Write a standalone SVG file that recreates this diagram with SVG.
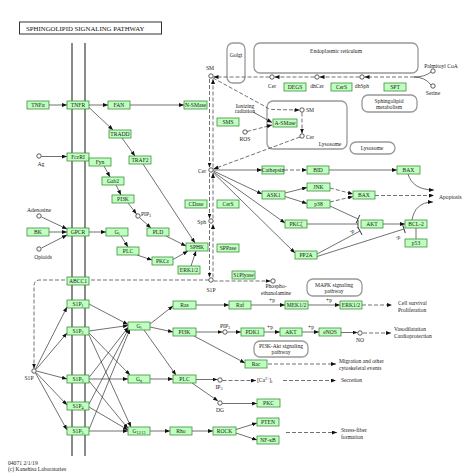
<svg xmlns="http://www.w3.org/2000/svg" width="474" height="473" viewBox="0 0 474 473">
<style>
.n rect{fill:#bfffbf;stroke:#3f8f3f;stroke-width:0.8}
.n text{font-family:"Liberation Serif",serif;font-size:5.6px;text-anchor:middle;fill:#1a1a1a}
.c{fill:#fff;stroke:#333;stroke-width:0.8}
.e{stroke:#333;stroke-width:0.7;fill:none;marker-end:url(#a)}
.i{stroke:#333;stroke-width:0.7;fill:none;marker-end:url(#t)}
.l{stroke:#333;stroke-width:0.7;fill:none}
.d{stroke-dasharray:4 2}
.cmp{fill:none;stroke:#999;stroke-width:1.3}
.t{font-family:"Liberation Serif",serif;font-size:5.6px;fill:#222}
.m{text-anchor:middle}
.r{text-anchor:end}
.mem{stroke:#8a8a8a;stroke-width:2}
</style>
<defs>
<marker id="a" markerUnits="userSpaceOnUse" markerWidth="5" markerHeight="4" refX="5" refY="2" orient="auto"><path d="M0,0L5,2L0,4z" fill="#111"/></marker>
<marker id="t" markerUnits="userSpaceOnUse" markerWidth="2" markerHeight="9" refX="1" refY="4.5" orient="auto"><path d="M1,0V9" stroke="#333" stroke-width="0.9"/></marker>
</defs>
<rect width="474" height="473" fill="#fff"/>
<rect x="19.5" y="22" width="142" height="12" fill="#fff" stroke="#333" stroke-width="1"/>
<text x="26" y="31" style="font-family:'Liberation Serif',serif;font-size:6.8px;fill:#111">SPHINGOLIPID  SIGNALING  PATHWAY</text>

<g id="membrane">
<line class="mem" x1="72" y1="43" x2="72" y2="456"/>
<line class="mem" x1="85" y1="43" x2="85" y2="456"/>
</g>

<g id="compartments">
<rect class="cmp" x="227" y="43" width="18" height="40" rx="6"/>
<text class="t m" x="236" y="57">Golgi</text>
<rect class="cmp" x="254" y="43" width="164" height="30" rx="6"/>
<text class="t m" x="336" y="53">Endoplasmic reticulum</text>
<rect class="cmp" x="362" y="95" width="55" height="17" rx="6" stroke-width="1"/>
<text class="t m" x="389" y="103">Sphingolipid</text>
<text class="t m" x="389" y="109">metabolism</text>
<rect class="cmp" x="267" y="101" width="80" height="48" rx="6"/>
<text class="t m" x="330" y="146">Lysosome</text>
<rect class="cmp" x="350" y="142" width="45" height="12" rx="6" stroke-width="1"/>
<text class="t m" x="372" y="150">Lysosome</text>
<rect class="cmp" x="307" y="279" width="55" height="17" rx="6" stroke-width="1"/>
<text class="t m" x="334" y="287">MAPK signaling</text>
<text class="t m" x="334" y="293">pathway</text>
<rect class="cmp" x="254" y="341" width="54" height="16" rx="6" stroke-width="1"/>
<text class="t m" x="281" y="348">PI3K-Akt signaling</text>
<text class="t m" x="281" y="354">pathway</text>
</g>

<g id="connectors">
<!-- ER row -->
<path class="l" d="M431,72 Q425,77 414,77"/>
<path class="l" d="M431,85 Q425,77 414,77"/>
<path class="e d" d="M414,77H364.5"/>
<path class="e d" d="M359.5,77H319.5"/>
<path class="e d" d="M314.5,77H274.5"/>
<path class="e d" d="M269.5,77H213.5"/>
<!-- SM/Cer/Sph/S1P vertical -->
<path class="e d" d="M209.5,79V167.5"/>
<path class="e d" d="M213,167.5V79"/>
<path class="e d" d="M209.5,173V218.5"/>
<path class="e d" d="M213,218.5V173"/>
<path class="e d" d="M209.5,224V277.5"/>
<path class="e d" d="M213,277.5V224"/>
<path class="e d" d="M209,280H40Q34,280 34,286V368.5"/>
<path class="e d" d="M213.5,281H270.5"/>
<!-- lysosome -->
<path class="e d" d="M213,78L266,107Q268,109 272,109.5L299.5,110"/>
<path class="e" d="M253,112L272,122.5"/>
<path class="e d" d="M247,131.5L272,125"/>
<path class="e d" d="M302,112.5V133.5"/>
<path class="e d" d="M300,137L213.5,169"/>
<!-- Cer targets -->
<path class="e" d="M213.5,170H262"/>
<path class="e d" d="M284,170H307"/>
<path class="e" d="M329,170H397"/>
<path class="e" d="M213.5,171L262,194"/>
<path class="e" d="M213.5,172L285,223"/>
<path class="e" d="M213,172.5L295,253"/>
<path class="e" d="M285,193L307,187.5"/>
<path class="e" d="M285,196.5L307,203.5"/>
<path class="e d" d="M330,188L353,194"/>
<path class="e d" d="M330,202L353,196.5"/>
<path class="i" d="M330,206L358,219"/>
<path class="i" d="M307,224H358"/>
<path class="i" d="M317,254L360,231"/>
<path class="i" d="M317,256.5L404,229"/>
<path class="e" d="M383,224H405"/>
<path class="l" d="M416,228V239"/>
<path class="e" d="M408,174C411,184 419,190 434,190"/>
<path class="e d" d="M375,195.5H434"/>
<path class="e" d="M412,220C414,209 420,202 433,202"/>
<!-- TNF / left -->
<path class="e" d="M49,105H67"/>
<path class="e" d="M89,105H108"/>
<path class="e" d="M130,105H184"/>
<path class="e" d="M89,107.5L113,130"/>
<path class="e" d="M122,138L135,156"/>
<path class="e" d="M143,164L195,243"/>
<path class="e" d="M41.5,156.5H67"/>
<path class="e" d="M104,166L110,177"/>
<path class="e" d="M116,185L121,195"/>
<path class="e" d="M128,203L136.5,214"/>
<path class="e" d="M140,218L151,228"/>
<path class="e" d="M166,236L186,246"/>
<path class="e" d="M41.5,217L67,229"/>
<path class="e" d="M49,232H67"/>
<path class="e" d="M41.5,248L67,235"/>
<path class="e" d="M89,232H106"/>
<path class="e" d="M121,236L128,247"/>
<path class="e" d="M137,255L152,260"/>
<path class="e" d="M173,259.5L188,251"/>
<path class="e" d="M191,266L196,251"/>
<!-- S1P receptors -->
<path class="e" d="M35.5,369L67,307"/>
<path class="e" d="M36,369.5L67,333"/>
<path class="e" d="M36.5,371L67,379"/>
<path class="e" d="M36,372.5L67,405"/>
<path class="e" d="M35.5,373L67,430"/>
<path class="e" d="M89,304L128,324.5"/>
<path class="e" d="M89,331L128,325.5"/>
<path class="e" d="M89,333L130,375"/>
<path class="e" d="M89,335L131,427"/>
<path class="e" d="M89,377.5L128.5,327"/>
<path class="e" d="M89,379H128"/>
<path class="e" d="M89,381L128,428.5"/>
<path class="e" d="M89,404L129,328"/>
<path class="e" d="M89,407L128,430"/>
<path class="e" d="M89,429.5L130,329"/>
<path class="e" d="M89,431H128"/>
<!-- G protein downstream -->
<path class="e" d="M150,324L173,306"/>
<path class="e" d="M150,327L173,332"/>
<path class="e" d="M144,330L176,375"/>
<path class="e" d="M150,379H173"/>
<path class="e" d="M150,431H170"/>
<path class="e" d="M196,305H229"/>
<path class="e" d="M251,305H285"/>
<path class="e" d="M308,305H340"/>
<path class="e d" d="M362,305H392"/>
<path class="e" d="M196,332H222.5"/>
<path class="e" d="M227.5,332H241"/>
<path class="e" d="M264,332H280"/>
<path class="e" d="M302,332H319"/>
<path class="e" d="M341,332.5H357.5"/>
<path class="e d" d="M363,333H391"/>
<path class="e" d="M194,336L245,363"/>
<path class="e d" d="M268,364H336"/>
<path class="e" d="M196,379.5H217.5"/>
<path class="e d" d="M222.5,380.5H256"/>
<path class="e d" d="M283,380.5H336"/>
<path class="e" d="M192,383L218,401"/>
<path class="e" d="M222.5,403.5H257"/>
<path class="e" d="M192,431H213"/>
<path class="e" d="M236,429.5L257,423"/>
<path class="e" d="M236,433L257,440"/>
<path class="e d" d="M286,432.5H337"/>
</g>

<g id="labels">
<text class="t m" x="210" y="70">SM</text>
<text class="t r" x="206" y="173">Cer</text>
<text class="t r" x="206" y="224">Sph</text>
<text class="t m" x="211" y="292">S1P</text>
<text class="t m" x="272" y="88">Cer</text>
<text class="t m" x="317" y="88">dhCer</text>
<text class="t m" x="362" y="88">dhSph</text>
<text class="t m" x="441" y="68">Palmitoyl CoA</text>
<text class="t m" x="433" y="95">Serine</text>
<text class="t" x="306" y="112">SM</text>
<text class="t" x="306" y="139">Cer</text>
<text class="t m" x="245" y="108">Ionizing</text>
<text class="t m" x="245" y="113">radiation</text>
<text class="t m" x="245" y="141">ROS</text>
<text class="t m" x="41" y="166">Ag</text>
<text class="t m" x="39" y="212">Adenosine</text>
<text class="t m" x="43" y="259">Opioids</text>
<text class="t" x="141" y="216">PIP<tspan font-size="4" dy="1">3</tspan></text>
<text class="t m" x="276" y="288">Phospho-</text>
<text class="t m" x="276" y="295">ethanolamine</text>
<text class="t m" x="29" y="380">S1P</text>
<text class="t" x="439" y="199">Apoptosis</text>
<text class="t m" x="352" y="233">-p</text>
<text class="t m" x="398" y="239">-p</text>
<text class="t m" x="272" y="302">+p</text>
<text class="t m" x="329" y="302">+p</text>
<text class="t m" x="270" y="329">+p</text>
<text class="t m" x="311" y="329">+p</text>
<text class="t m" x="225" y="328">PIP<tspan font-size="4" dy="1">3</tspan></text>
<text class="t m" x="219" y="389">IP<tspan font-size="4" dy="1">3</tspan></text>
<text class="t m" x="220" y="412">DG</text>
<text class="t m" x="360" y="342">NO</text>
<text class="t" x="257" y="382">[Ca<tspan font-size="4" dy="-2">2+</tspan><tspan dy="2">]</tspan><tspan font-size="4" dy="1">i</tspan></text>
<text class="t" x="398" y="305">Cell survival</text>
<text class="t" x="398" y="312">Proliferation</text>
<text class="t" x="394" y="331">Vasodilatation</text>
<text class="t" x="394" y="338">Cardioprotection</text>
<text class="t" x="339" y="363">Migration and other</text>
<text class="t" x="339" y="370">cytoskeletal events</text>
<text class="t" x="341" y="382">Secretion</text>
<text class="t" x="341" y="432">Stress-fiber</text>
<text class="t" x="341" y="439">formation</text>
<text class="t" x="8" y="465">04071 2/1/19</text>
<text class="t" x="8" y="471">(c) Kanehisa Laboratories</text>
</g>

<g id="compounds">
<circle class="c" cx="211" cy="76" r="2.2"/>
<circle class="c" cx="211" cy="170" r="2.2"/>
<circle class="c" cx="211" cy="221" r="2.2"/>
<circle class="c" cx="211" cy="280" r="2.2"/>
<circle class="c" cx="39" cy="156" r="2.2"/>
<circle class="c" cx="39" cy="216" r="2.2"/>
<circle class="c" cx="39" cy="249" r="2.2"/>
<circle class="c" cx="138" cy="216" r="2.2"/>
<circle class="c" cx="273" cy="281" r="2.2"/>
<circle class="c" cx="245" cy="132" r="2.2"/>
<circle class="c" cx="302" cy="110" r="2.2"/>
<circle class="c" cx="302" cy="136" r="2.2"/>
<circle class="c" cx="272" cy="77" r="2.2"/>
<circle class="c" cx="317" cy="77" r="2.2"/>
<circle class="c" cx="362" cy="77" r="2.2"/>
<circle class="c" cx="433" cy="71" r="2.2"/>
<circle class="c" cx="433" cy="86" r="2.2"/>
<circle class="c" cx="34" cy="371" r="2.2"/>
<circle class="c" cx="225" cy="332" r="2.2"/>
<circle class="c" cx="220" cy="380" r="2.2"/>
<circle class="c" cx="220" cy="403" r="2.2"/>
<circle class="c" cx="360" cy="333" r="2.2"/>
</g>

<g id="n-TNFa" class="n"><rect x="27" y="101" width="22" height="8"/><text x="38" y="107">TNFα</text></g>
<g id="n-TNFR" class="n"><rect x="67" y="101" width="22" height="8"/><text x="78" y="107">TNFR</text></g>
<g id="n-FAN" class="n"><rect x="108" y="101" width="22" height="8"/><text x="119" y="107">FAN</text></g>
<g id="n-NSMase" class="n"><rect x="184" y="101" width="23" height="8"/><text x="195.5" y="107">N-SMase</text></g>
<g id="n-TRADD" class="n"><rect x="109" y="130" width="22" height="8"/><text x="120" y="136">TRADD</text></g>
<g id="n-TRAF2" class="n"><rect x="129" y="156" width="22" height="8"/><text x="140" y="162">TRAF2</text></g>
<g id="n-FceRI" class="n"><rect x="67" y="153" width="22" height="8"/><text x="78" y="159">FcεRI</text></g>
<g id="n-Fyn" class="n"><rect x="89" y="158" width="22" height="8"/><text x="100" y="164">Fyn</text></g>
<g id="n-Gab2" class="n"><rect x="102" y="177" width="22" height="8"/><text x="113" y="183">Gab2</text></g>
<g id="n-PI3K1" class="n"><rect x="112" y="195" width="22" height="8"/><text x="123" y="201">PI3K</text></g>
<g id="n-PLD" class="n"><rect x="147" y="228" width="22" height="8"/><text x="158" y="234">PLD</text></g>
<g id="n-SPHK" class="n"><rect x="186" y="243" width="22" height="8"/><text x="197" y="249">SPHK</text></g>
<g id="n-ERK1" class="n"><rect x="178" y="266" width="22" height="8"/><text x="189" y="272">ERK1/2</text></g>
<g id="n-PKCe" class="n"><rect x="152" y="257" width="21" height="8"/><text x="162.5" y="263">PKCε</text></g>
<g id="n-PLC1" class="n"><rect x="117" y="247" width="22" height="8"/><text x="128" y="253">PLC</text></g>
<g id="n-Gi1" class="n"><rect x="106" y="228" width="22" height="8"/><text x="117" y="234">G<tspan font-size="4" dy="1">i</tspan></text></g>
<g id="n-GPCR" class="n"><rect x="67" y="228" width="22" height="8"/><text x="78" y="234">GPCR</text></g>
<g id="n-BK" class="n"><rect x="27" y="228" width="22" height="8"/><text x="38" y="234">BK</text></g>
<g id="n-ABCC1" class="n"><rect x="67" y="277" width="22" height="8"/><text x="78" y="283">ABCC1</text></g>
<g id="n-CDase" class="n"><rect x="185" y="200" width="22" height="8"/><text x="196" y="206">CDase</text></g>
<g id="n-CerS1" class="n"><rect x="217" y="200" width="22" height="8"/><text x="228" y="206">CerS</text></g>
<g id="n-SPPase" class="n"><rect x="217" y="244" width="22" height="8"/><text x="228" y="250">SPPase</text></g>
<g id="n-S1Plyase" class="n"><rect x="232" y="271" width="23" height="8"/><text x="243.5" y="277">S1Plyase</text></g>
<g id="n-SMS" class="n"><rect x="217" y="118" width="22" height="8"/><text x="228" y="124">SMS</text></g>
<g id="n-ASMase" class="n"><rect x="273" y="119" width="24" height="8"/><text x="285" y="125">A-SMase</text></g>
<g id="n-DEGS" class="n"><rect x="284" y="83" width="22" height="8"/><text x="295" y="89">DEGS</text></g>
<g id="n-CerS2" class="n"><rect x="331" y="83" width="21" height="8"/><text x="341.5" y="89">CerS</text></g>
<g id="n-SPT" class="n"><rect x="384" y="83" width="22" height="8"/><text x="395" y="89">SPT</text></g>
<g id="n-Cathepsin" class="n"><rect x="262" y="166" width="22" height="8"/><text x="273" y="172">Cathepsin</text></g>
<g id="n-BID" class="n"><rect x="307" y="166" width="22" height="8"/><text x="318" y="172">BID</text></g>
<g id="n-BAX1" class="n"><rect x="397" y="166" width="23" height="8"/><text x="408.5" y="172">BAX</text></g>
<g id="n-JNK" class="n"><rect x="307" y="183" width="23" height="8"/><text x="318.5" y="189">JNK</text></g>
<g id="n-ASK1" class="n"><rect x="262" y="191" width="23" height="8"/><text x="273.5" y="197">ASK1</text></g>
<g id="n-p38" class="n"><rect x="307" y="200" width="23" height="8"/><text x="318.5" y="206">p38</text></g>
<g id="n-BAX2" class="n"><rect x="353" y="191" width="22" height="8"/><text x="364" y="197">BAX</text></g>
<g id="n-PKCz" class="n"><rect x="285" y="220" width="22" height="8"/><text x="296" y="226">PKCζ</text></g>
<g id="n-AKT1" class="n"><rect x="361" y="220" width="22" height="8"/><text x="372" y="226">AKT</text></g>
<g id="n-BCL2" class="n"><rect x="405" y="220" width="22" height="8"/><text x="416" y="226">BCL-2</text></g>
<g id="n-p53" class="n"><rect x="405" y="239" width="22" height="8"/><text x="416" y="245">p53</text></g>
<g id="n-PP2A" class="n"><rect x="295" y="251" width="22" height="8"/><text x="306" y="257">PP2A</text></g>
<g id="n-S1P1" class="n"><rect x="67" y="300" width="22" height="8"/><text x="78" y="306">S1P<tspan font-size="4" dy="1">1</tspan></text></g>
<g id="n-S1P2" class="n"><rect x="67" y="327" width="22" height="8"/><text x="78" y="333">S1P<tspan font-size="4" dy="1">2</tspan></text></g>
<g id="n-S1P3" class="n"><rect x="67" y="375" width="22" height="8"/><text x="78" y="381">S1P<tspan font-size="4" dy="1">3</tspan></text></g>
<g id="n-S1P4" class="n"><rect x="67" y="402" width="22" height="8"/><text x="78" y="408">S1P<tspan font-size="4" dy="1">4</tspan></text></g>
<g id="n-S1P5" class="n"><rect x="67" y="427" width="22" height="8"/><text x="78" y="433">S1P<tspan font-size="4" dy="1">5</tspan></text></g>
<g id="n-Gi2" class="n"><rect x="128" y="322" width="22" height="8"/><text x="139" y="328">G<tspan font-size="4" dy="1">i</tspan></text></g>
<g id="n-Gq" class="n"><rect x="128" y="375" width="22" height="8"/><text x="139" y="381">G<tspan font-size="4" dy="1">q</tspan></text></g>
<g id="n-G1213" class="n"><rect x="128" y="427" width="22" height="8"/><text x="139" y="433">G<tspan font-size="4" dy="1">12/13</tspan></text></g>
<g id="n-Ras" class="n"><rect x="173" y="301" width="23" height="8"/><text x="184.5" y="307">Ras</text></g>
<g id="n-Raf" class="n"><rect x="229" y="301" width="22" height="8"/><text x="240" y="307">Raf</text></g>
<g id="n-MEK" class="n"><rect x="285" y="301" width="23" height="8"/><text x="296.5" y="307">MEK1/2</text></g>
<g id="n-ERK2" class="n"><rect x="340" y="301" width="22" height="8"/><text x="351" y="307">ERK1/2</text></g>
<g id="n-PI3K2" class="n"><rect x="173" y="328" width="23" height="8"/><text x="184.5" y="334">PI3K</text></g>
<g id="n-PDK1" class="n"><rect x="241" y="328" width="23" height="8"/><text x="252.5" y="334">PDK1</text></g>
<g id="n-AKT2" class="n"><rect x="280" y="328" width="22" height="8"/><text x="291" y="334">AKT</text></g>
<g id="n-eNOS" class="n"><rect x="319" y="328" width="22" height="8"/><text x="330" y="334">eNOS</text></g>
<g id="n-Rac" class="n"><rect x="245" y="360" width="22" height="8"/><text x="256" y="366">Rac</text></g>
<g id="n-PLC2" class="n"><rect x="173" y="375" width="23" height="8"/><text x="184.5" y="381">PLC</text></g>
<g id="n-PKC" class="n"><rect x="257" y="399" width="23" height="8"/><text x="268.5" y="405">PKC</text></g>
<g id="n-Rho" class="n"><rect x="170" y="427" width="22" height="8"/><text x="181" y="433">Rho</text></g>
<g id="n-ROCK" class="n"><rect x="213" y="427" width="23" height="8"/><text x="224.5" y="433">ROCK</text></g>
<g id="n-PTEN" class="n"><rect x="257" y="418" width="22" height="8"/><text x="268" y="424">PTEN</text></g>
<g id="n-NFkB" class="n"><rect x="257" y="436" width="22" height="8"/><text x="268" y="442">NF-κB</text></g>
</svg>
